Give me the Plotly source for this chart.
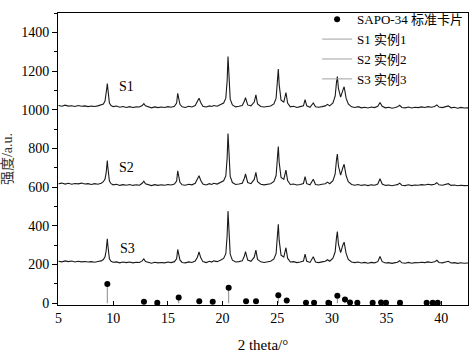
import plotly.graph_objects as go

# 2-theta grid (degrees)
two_theta = [
    5.0, 5.3, 5.6, 5.9, 6.2, 6.5, 6.8, 7.1, 7.4, 7.7,
    8.0, 8.3, 8.6, 8.9, 9.1, 9.25, 9.35, 9.42, 9.46, 9.5,
    9.56, 9.65, 9.8, 10.0, 10.3, 10.6, 10.9, 11.2, 11.5, 11.8,
    12.1, 12.4, 12.65, 12.8, 12.95, 13.2, 13.5, 13.8, 14.1, 14.4,
    14.7, 15.0, 15.3, 15.6, 15.8, 15.9, 16.0, 16.1, 16.3, 16.6,
    16.9, 17.2, 17.5, 17.7, 17.85, 18.0, 18.2, 18.5, 18.8, 19.0,
    19.2, 19.5, 19.8, 20.1, 20.3, 20.42, 20.5, 20.58, 20.7, 20.9,
    21.2, 21.5, 21.8, 22.0, 22.1, 22.3, 22.6, 22.9, 23.05, 23.2,
    23.5, 23.8, 24.1, 24.4, 24.7, 24.9, 25.02, 25.1, 25.18, 25.35,
    25.6, 25.8, 25.95, 26.2, 26.5, 26.8, 27.1, 27.4, 27.55, 27.7,
    28.0, 28.3, 28.5, 28.8, 29.1, 29.4, 29.6, 29.8, 30.1, 30.3,
    30.42, 30.5, 30.6, 30.8, 31.0, 31.12, 31.3, 31.5, 31.8, 32.1,
    32.4, 32.7, 33.0, 33.3, 33.6, 33.9, 34.2, 34.4, 34.6, 34.9,
    35.2, 35.5, 35.8, 36.0, 36.2, 36.4, 36.7, 37.0, 37.3, 37.6,
    37.9, 38.2, 38.5, 38.8, 39.1, 39.4, 39.6, 39.8, 40.1, 40.4,
    40.65, 40.9, 41.2, 41.5, 41.8, 42.1, 42.5,
]

s1_intensity = [
    1022, 1018, 1024, 1019, 1021, 1017, 1022, 1018, 1020, 1016,
    1019, 1017, 1020, 1024, 1030, 1045, 1075, 1115, 1135, 1110,
    1060, 1035, 1022, 1016, 1019, 1013, 1017, 1012, 1016, 1012,
    1015, 1014, 1022, 1032, 1020, 1014, 1010, 1015, 1011, 1014,
    1012, 1016, 1013, 1018, 1035, 1085, 1050, 1028, 1015, 1012,
    1018, 1014, 1022, 1040, 1060, 1038, 1018, 1014, 1020, 1017,
    1022, 1018, 1025, 1035, 1060, 1150, 1275, 1150, 1055, 1025,
    1015, 1018, 1022, 1045, 1062, 1025, 1020, 1040, 1077, 1030,
    1017, 1014, 1016, 1019, 1030, 1060, 1150, 1210, 1130, 1050,
    1040, 1089, 1035, 1015, 1018, 1012, 1016, 1020, 1052, 1020,
    1013, 1035, 1015, 1013, 1016, 1020, 1028, 1020, 1035, 1070,
    1140, 1172, 1110, 1065, 1100, 1119, 1060, 1030, 1015, 1012,
    1016, 1010, 1013, 1009, 1014, 1011, 1018, 1038, 1018, 1010,
    1013, 1008, 1012, 1015, 1023, 1012, 1010, 1014, 1009, 1013,
    1011, 1015, 1012, 1016, 1013, 1017, 1025, 1014, 1011, 1015,
    1020, 1010, 1013, 1008, 1012, 1009, 1010,
]

s2_intensity = [
    618, 621, 616, 620, 615, 619, 617, 621, 616, 618,
    614, 618, 615, 620, 628, 642, 672, 712, 738, 708,
    660, 632, 618, 612, 615, 609, 613, 610, 614, 609,
    612, 610, 620, 631, 617, 611, 608, 613, 609, 612,
    610, 614, 611, 616, 632, 684, 648, 625, 612, 610,
    615, 612, 620, 640, 659, 636, 616, 611, 618, 614,
    620, 616, 623, 633, 658, 750, 877, 752, 655, 624,
    614, 616, 620, 646, 668, 624, 618, 640, 676, 628,
    615, 612, 615, 618, 630, 660, 752, 810, 728, 650,
    640, 688, 634, 614, 616, 611, 614, 619, 655, 618,
    612, 641, 614, 611, 615, 618, 626, 618, 634, 668,
    740, 771, 708, 662, 700, 718, 660, 628, 614, 610,
    614, 609, 612, 608, 612, 610, 616, 643, 616, 609,
    611, 607, 611, 613, 621, 610, 608, 612, 608, 611,
    610, 613, 611, 615, 612, 615, 623, 612, 610, 613,
    618, 609, 611, 607, 610, 608, 609,
]

s3_intensity = [
    217, 214, 219, 215, 218, 213, 217, 214, 216, 213,
    215, 212, 216, 219, 226, 240, 270, 310, 333, 305,
    258, 230, 217, 212, 214, 209, 213, 210, 213, 209,
    212, 211, 219, 229, 216, 211, 207, 212, 209, 211,
    209, 213, 210, 215, 230, 278, 245, 224, 211, 209,
    214, 211, 218, 238, 265, 236, 215, 210, 217, 213,
    219, 215, 222, 232, 256, 350, 476, 350, 254, 223,
    213, 215, 219, 244, 267, 223, 217, 238, 275, 227,
    214, 211, 214, 217, 229, 258, 350, 408, 326, 249,
    239, 287, 233, 213, 215, 210, 213, 218, 254, 217,
    211, 240, 213, 210, 214, 217, 225, 217, 233, 266,
    338, 370, 306, 262, 300, 316, 258, 227, 213, 210,
    213, 208, 211, 207, 211, 209, 215, 242, 215, 208,
    210, 206, 210, 212, 220, 209, 207, 211, 207, 210,
    209, 212, 210, 214, 211, 214, 222, 211, 209, 212,
    217, 208, 210, 206, 209, 207, 208,
]

# SAPO-34 standard card
std_theta = [9.46, 12.81, 14.03, 15.99, 17.87, 19.10, 20.56, 22.15, 23.06, 25.10,
             25.87, 27.63, 28.37, 29.68, 30.50, 31.20, 31.66, 32.33, 33.73, 34.50,
             34.95, 36.23, 38.67, 39.22, 39.68]
std_int = [100, 8, 2, 30, 10, 8, 80, 11, 10, 41,
           14, 3, 3, 2, 39, 19, 4, 2, 2, 4,
           2, 2, 2, 2, 2]

series_names = ["S1 实例1", "S2 实例2", "S3 实例3"]
curve_labels = ["S1", "S2", "S3"]
label_pos_x = [11.23, 11.2, 11.35]
label_pos_y = [1119, 703, 283]
std_name = "SAPO-34 标准卡片"

x_ticks = [5, 10, 15, 20, 25, 30, 35, 40]
y_ticks = [0, 200, 400, 600, 800, 1000, 1200, 1400]

SERIF = "Liberation Serif, Times New Roman, Noto Sans CJK SC, serif"

fig = go.Figure()

# stick pattern
stick_x, stick_y = [], []
for t, v in zip(std_theta, std_int):
    stick_x += [t, t, None]
    stick_y += [0, v, None]
fig.add_trace(go.Scatter(x=stick_x, y=stick_y, mode="lines",
                         line=dict(color="#8a8a8a", width=1),
                         showlegend=False, hoverinfo="skip"))
fig.add_trace(go.Scatter(x=std_theta, y=std_int, mode="markers",
                         marker=dict(color="black", size=6),
                         showlegend=False))

for ys in (s1_intensity, s2_intensity, s3_intensity):
    fig.add_trace(go.Scatter(x=two_theta, y=ys, mode="lines",
                             line=dict(color="#1a1a1a", width=1.1),
                             showlegend=False))

# legend entries
fig.add_trace(go.Scatter(x=[None], y=[None], mode="markers",
                         marker=dict(color="black", size=6), name=std_name))
for nm in series_names:
    fig.add_trace(go.Scatter(x=[None], y=[None], mode="lines",
                             line=dict(color="#a0a0a0", width=1), name=nm))

for lbl, lx, ly in zip(curve_labels, label_pos_x, label_pos_y):
    fig.add_annotation(x=lx, y=ly, text=lbl, showarrow=False,
                       font=dict(family=SERIF, size=14, color="black"))

fig.update_layout(
    width=474, height=353,
    margin=dict(l=58, r=6, t=4, b=48),
    paper_bgcolor="white", plot_bgcolor="white",
    legend=dict(x=0.632, y=1.03, xanchor="left", yanchor="top",
                bgcolor="rgba(0,0,0,0)", borderwidth=0,
                font=dict(family=SERIF, size=13, color="black"),
                itemwidth=30, tracegroupgap=0),
)
fig.update_xaxes(range=[4.95, 42.45], tickvals=x_ticks, automargin=False,
                 ticks="inside", ticklen=4, tickcolor="black",
                 showline=True, linecolor="black", linewidth=1, mirror=True,
                 showgrid=False, zeroline=False,
                 tickfont=dict(family=SERIF, size=14, color="black"),
                 title=dict(text="2 theta/°", font=dict(family=SERIF, size=15, color="black")))
fig.update_yaxes(range=[-9, 1500], tickvals=y_ticks, automargin=False,
                 ticks="outside", ticklen=5, tickcolor="black",
                 minor=dict(dtick=100, ticks="outside", ticklen=3, tickcolor="black"),
                 showline=True, linecolor="black", linewidth=1, mirror=True,
                 showgrid=False, zeroline=False,
                 tickfont=dict(family=SERIF, size=14, color="black"),
                 title=dict(text="强度/a.u.", font=dict(family=SERIF, size=14, color="#333")))

fig.write_html("out.html", config={"displayModeBar": False},
               post_script="document.body.style.margin='0px';")
